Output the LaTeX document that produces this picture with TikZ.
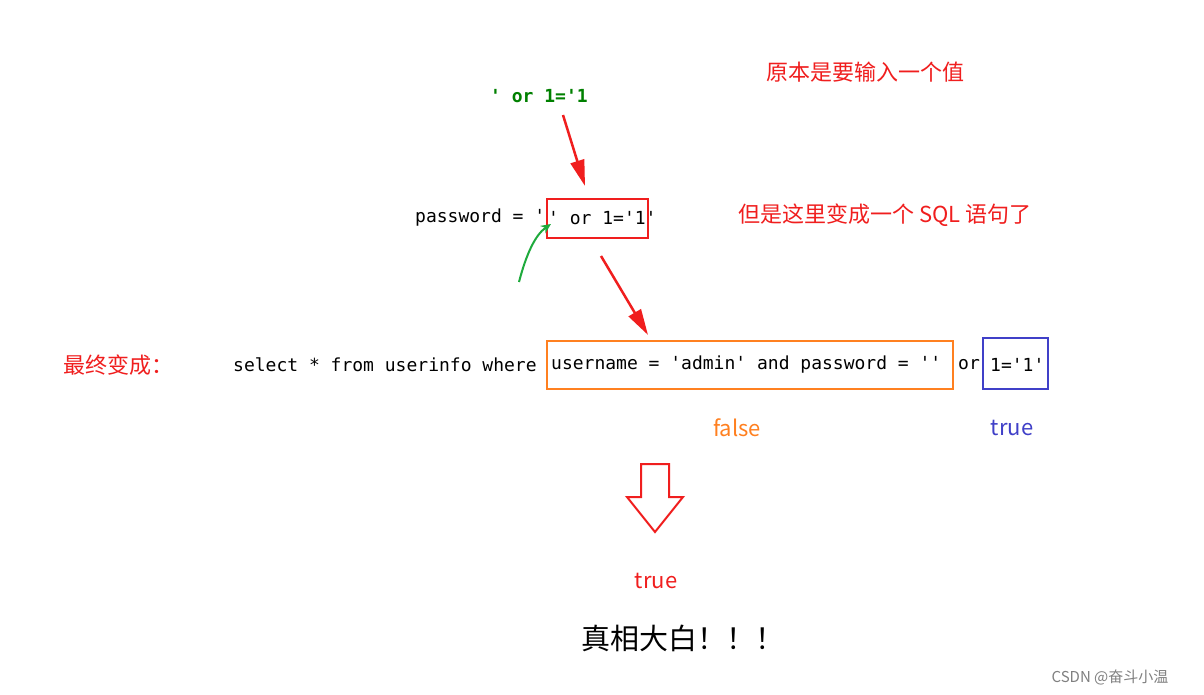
\documentclass[tikz,border=0pt]{standalone}
\usepackage{fontspec}
\setmainfont{Noto Sans CJK SC}
\newfontfamily\cjk{Noto Sans CJK SC}
\newfontfamily\mono{DejaVu Sans Mono}
\usetikzlibrary{arrows.meta}
\definecolor{myred}{RGB}{240,30,30}
\definecolor{mygreen}{RGB}{0,128,0}
\definecolor{ggreen}{RGB}{30,170,60}
\definecolor{myorange}{RGB}{255,128,32}
\definecolor{myblue}{RGB}{64,64,200}
\tikzset{
  code/.style={font=\mono\fontsize{18}{18}\selectfont, inner sep=0pt, anchor=west},
  cn/.style={font=\cjk\fontsize{22}{22}\selectfont, inner sep=0pt},
  redarrow/.style={myred, line width=2.5pt, -{Triangle[length=26pt,width=14pt]}},
}
\begin{document}
\begin{tikzpicture}[x=1pt,y=-1pt]
\useasboundingbox[fill=white] (0,0) rectangle (1204,695);
\node[code, font=\mono\bfseries\fontsize{18}{18}\selectfont, text=mygreen] (inj) at (490,96) {' or 1='1};
\node[cn, text=myred] (t1) at (865,72) {原本是要输入一个值};
\node[code] (pw1) at (415,218) {password = '};
\node[code] (pw2) at (548,218) {' or 1='1'};
\draw[myred, line width=2pt] (547,199) rectangle (648,238);
\node[cn, text=myred] (t2) at (885,215) {但是这里变成一个 SQL 语句了};
\coordinate (a1s) at (563,115); \coordinate (a1e) at (585,186);
\draw[redarrow] (a1s) -- (a1e);
\coordinate (gs) at (519,282); \coordinate (ge) at (551,224);
\draw[ggreen, line width=2pt, -{Stealth[length=10pt,width=9pt]}] (gs) .. controls (526,255) and (535,235) .. (ge);
\coordinate (a2s) at (601,256); \coordinate (a2e) at (648,335);
\draw[redarrow] (a2s) -- (a2e);
\node[cn, text=myred] (t3) at (118,365) {最终变成：};
\node[code] (s1) at (233,365) {select * from userinfo where};
\node[code] (s2) at (551,365) {username = 'admin' and password = ''};
\node[code] (s3) at (958,365) {or};
\node[code] (s4) at (990,365) {1='1'};
\draw[myorange, line width=2pt] (547,341) rectangle (953,389);
\draw[myblue, line width=2pt] (983,338) rectangle (1048,389);
\node[cn, text=myorange] (f) at (737,428) {false};
\node[cn, text=myblue] (tr) at (1012,428) {true};
\draw[myred, line width=2pt, line join=miter] (641,464) -- (669,464) -- (669,497) -- (683,497) -- (655,532) -- (627,497) -- (641,497) -- cycle;
\node[cn, text=myred] (tr2) at (656,581) {true};
\node[cn, font=\cjk\fontsize{29}{29}\selectfont] (end) at (683,638) {真相大白！！！};
\node[cn, font=\cjk\fontsize{15}{15}\selectfont, text=gray] (wm) at (1110,677) {CSDN @奋斗小温};
\end{tikzpicture}
\end{document}
